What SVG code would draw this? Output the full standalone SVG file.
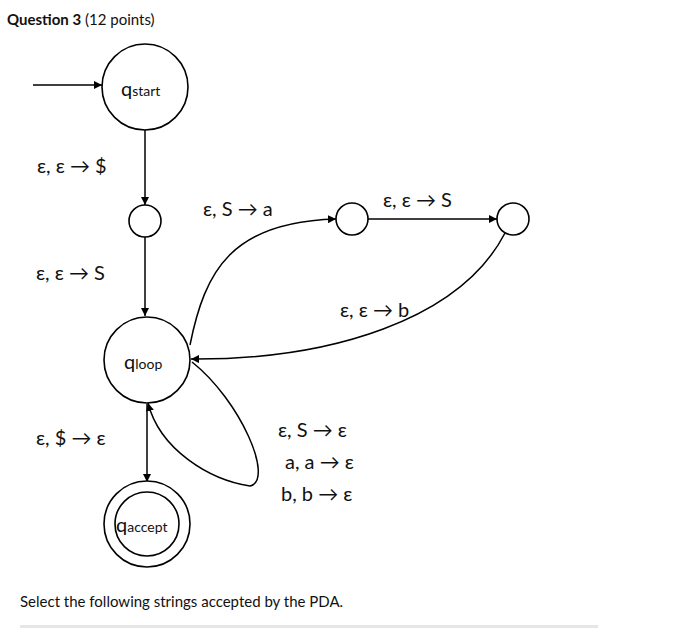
<svg xmlns="http://www.w3.org/2000/svg" width="700" height="629" viewBox="0 0 700 629">
<style>
.n{fill:#fff;stroke:#000;stroke-width:1.6}
.e{fill:none;stroke:#000;stroke-width:1.5}
text{font-family:Lato,"Open Sans",sans-serif;fill:#111}
.l{font-size:20px}
.q{font-size:20px}
.s{font-size:14px}
</style>
<defs><marker id="a" viewBox="0 0 10 10" refX="10" refY="5" markerWidth="8" markerHeight="8" markerUnits="userSpaceOnUse" orient="auto"><path d="M0,0L10,5L0,10z"/></marker></defs>
<rect width="700" height="629" fill="#fff"/>
<text x="7" y="25" font-size="15"><tspan font-weight="bold">Question 3</tspan> (12 points)</text>
<g id="connectors">
<path class="e" d="M33,85H102" marker-end="url(#a)"/>
<path class="e" d="M145,130V205" marker-end="url(#a)"/>
<path class="e" d="M145,237V316" marker-end="url(#a)"/>
<path class="e" d="M147,404V482" marker-end="url(#a)"/>
<path class="e" d="M190,345C205,270 232,222 336,219" marker-end="url(#a)"/>
<path class="e" d="M368,219H497" marker-end="url(#a)"/>
<path class="e" d="M505,233C460,320 330,360 191,359" marker-end="url(#a)"/>
<path class="e" d="M192,362C240,400 275,480 250,486C210,480 160,450 148,403" marker-end="url(#a)"/>
</g>
<g id="qstart"><circle class="n" cx="145" cy="87" r="43"/><text x="121" y="96" class="q">q<tspan class="s" dy="0">start</tspan></text></g>
<g id="s1"><circle class="n" cx="145" cy="221" r="16"/></g>
<g id="s2"><circle class="n" cx="352" cy="219" r="16"/></g>
<g id="s3"><circle class="n" cx="513" cy="219" r="16"/></g>
<g id="qloop"><circle class="n" cx="147" cy="360" r="43"/><text x="124" y="369" class="q">q<tspan class="s">loop</tspan></text></g>
<g id="qaccept"><circle class="n" cx="147" cy="524" r="43"/><circle class="n" cx="147" cy="524" r="32"/><text x="116" y="532" class="q">q<tspan class="s">accept</tspan></text></g>
<g id="labels" class="l">
<text x="37" y="173">ε, ε → $</text>
<text x="203" y="216">ε, S → a</text>
<text x="383" y="207">ε, ε → S</text>
<text x="36" y="280">ε, ε → S</text>
<text x="340" y="317">ε, ε → b</text>
<text x="36" y="445">ε, $ → ε</text>
<text x="278" y="437">ε, S → ε</text>
<text x="285" y="469">a, a → ε</text>
<text x="281" y="501">b, b → ε</text>
</g>
<text x="20" y="607" font-size="15">Select the following strings accepted by the PDA.</text>
<rect x="20" y="625" width="578" height="3" fill="#e6e6e6"/>
</svg>
